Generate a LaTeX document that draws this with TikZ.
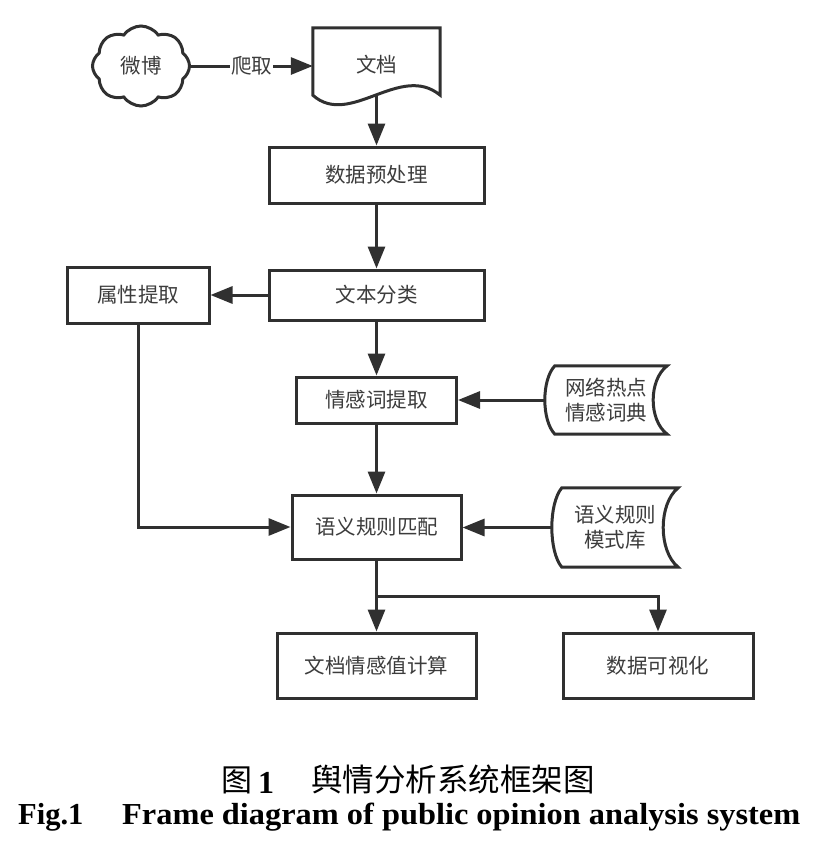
\documentclass[tikz,border=0pt]{standalone}
\usepackage{fontspec}
\usepackage{graphicx}
\newfontfamily\cjk{Noto Sans CJK SC}
\newfontfamily\tnr{Liberation Serif}
\usetikzlibrary{shapes.symbols,arrows.meta,calc}
\definecolor{ln}{HTML}{303030}
\definecolor{tx}{HTML}{3C3C3C}
\tikzset{
  x=1pt, y=-1pt,
  box/.style={draw=ln, line width=3pt, rectangle, inner sep=0pt,
    font=\cjk\fontsize{20.5}{25}\selectfont, text=tx, align=center},
  ghost/.style={rectangle, inner sep=0pt,
    font=\cjk\fontsize{20.5}{25}\selectfont, text=tx, align=center},
  shapeline/.style={draw=ln, line width=3pt, line join=miter},
  arr/.style={draw=ln, line width=3pt, -{Triangle[length=22pt,width=17pt]}},
  cloudbox/.style={cloud, cloud puffs=8, cloud puff arc=110, cloud ignores aspect,
    minimum width=97pt, minimum height=80pt, draw=ln, line width=3pt, inner sep=0pt,
    font=\cjk\fontsize{20.5}{25}\selectfont, text=tx},
  lbl/.style={fill=white, inner sep=1pt, font=\cjk\fontsize{20.5}{25}\selectfont, text=tx},
}
\begin{document}
\begin{tikzpicture}
\path[use as bounding box, fill=white] (0,0) rectangle (828,841);

% nodes
\node[cloudbox] (cloud) at (141,66) {微博};
\node[ghost, minimum width=127pt, minimum height=67pt] (doc) at (376.5,65) {文档};
\draw[shapeline] ($(doc.south west)+(0,-3.5)$) -- ($(doc.north west)+(0,-3.5)$) -- ($(doc.north east)+(0,-3.5)$) -- ($(doc.south east)+(0,-3.5)$)
  .. controls ($(doc.south east)+(-40,-36.5)$) and ($(doc.south west)+(37,29.5)$) .. ($(doc.south west)+(0,-3.5)$) -- cycle;
\coordinate (docb) at ($(doc.south)+(0,-3.5)$);

\node[box, minimum width=215pt, minimum height=56pt] (pre) at (376.5,175) {数据预处理};
\node[box, minimum width=215pt, minimum height=50pt] (cls) at (376.5,295) {文本分类};
\node[box, minimum width=142pt, minimum height=56pt] (attr) at (138,295) {属性提取};
\node[box, minimum width=160pt, minimum height=46pt] (emo) at (376.5,400) {情感词提取};
\node[ghost, minimum width=122pt, minimum height=68pt] (dict1) at (606,400) {网络热点\\情感词典};
\draw[shapeline] ($(dict1.north west)+(10,0)$) -- (dict1.north east)
  .. controls ($(dict1.north east)+(-18.7,14)$) and ($(dict1.south east)+(-18.7,-14)$) .. (dict1.south east)
  -- ($(dict1.south west)+(10,0)$)
  .. controls ($(dict1.south west)+(-3.3,-14)$) and ($(dict1.north west)+(-3.3,14)$) .. cycle;

\node[box, minimum width=169pt, minimum height=64pt] (match) at (376.5,527) {语义规则匹配};
\node[ghost, minimum width=126pt, minimum height=79pt] (dict2) at (615,527.5) {语义规则\\模式库};
\draw[shapeline] ($(dict2.north west)+(10,0)$) -- (dict2.north east)
  .. controls ($(dict2.north east)+(-20,16)$) and ($(dict2.south east)+(-20,-16)$) .. (dict2.south east)
  -- ($(dict2.south west)+(10,0)$)
  .. controls ($(dict2.south west)+(-3.3,-16)$) and ($(dict2.north west)+(-3.3,16)$) .. cycle;

\node[box, minimum width=199pt, minimum height=65pt] (calc) at (376.5,665.5) {文档情感值计算};
\node[box, minimum width=190pt, minimum height=65pt] (vis) at (658,665.5) {数据可视化};

% connectors
\draw[arr] (cloud.east) -- node[lbl] (crawl) {爬取} (cloud.east -| doc.west);
\draw[arr] (docb) -- (pre.north);
\draw[arr] (pre.south) -- (cls.north);
\draw[arr] (cls.west) -- (attr.east);
\draw[arr] (cls.south) -- (emo.north);
\draw[arr] (dict1.west) -- (dict1.west -| emo.east);
\draw[arr] (emo.south) -- (match.north);
\draw[arr] (attr.south) |- (match.west);
\draw[arr] (dict2.west) -- (dict2.west -| match.east);
\draw[arr] (match.south) -- (calc.north);
\coordinate (br) at (376.5,596);
\draw[arr] (br) -| (vis.north);

% caption
\node[anchor=base west, inner sep=0pt, font=\cjk\fontsize{31}{36}\selectfont] (cap1) at (221,791) {图};
\node[anchor=base west, inner sep=0pt, font=\tnr\bfseries\fontsize{32}{36}\selectfont] (cap2) at (258,793) {1};
\node[anchor=base west, inner sep=0pt, font=\cjk\fontsize{31.5}{36}\selectfont] (cap3) at (311,791) {舆情分析系统框架图};
\node[anchor=base west, inner sep=0pt, font=\tnr\bfseries\fontsize{30.5}{34}\selectfont] (cap4) at (18,824) {Fig.1};
\node[anchor=base west, inner sep=0pt, font=\tnr\bfseries\fontsize{30.5}{34}\selectfont] (cap5) at (122,824) {\resizebox{678pt}{\height}{Frame diagram of public opinion analysis system}};
\end{tikzpicture}
\end{document}
